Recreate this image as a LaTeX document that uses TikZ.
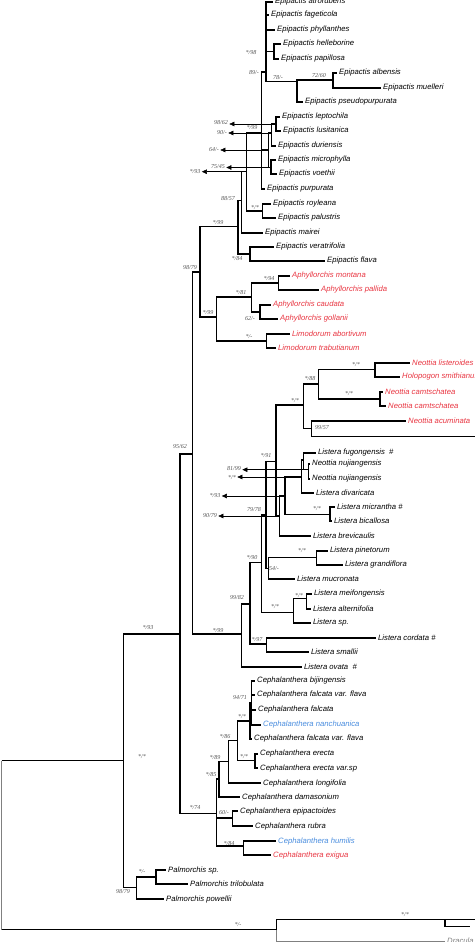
\documentclass[tikz,border=0pt]{standalone}
\usepackage{fontspec}
\setmainfont{Liberation Sans}
\newfontfamily\supfont{Liberation Serif}
\usetikzlibrary{arrows.meta}
\definecolor{tred}{RGB}{232,52,64}
\definecolor{tblue}{RGB}{72,140,222}
\definecolor{supgray}{RGB}{80,80,80}
\tikzset{
  br/.style={line width=1.3pt},
  tip/.style={anchor=west, inner xsep=2.5pt, inner ysep=0pt, font=\fontsize{7.7}{9}\selectfont\itshape},
  redtip/.style={tip, text=tred},
  bluetip/.style={tip, text=tblue},
  sup/.style={inner sep=0pt, text=supgray, font=\fontsize{6}{7}\supfont\itshape},
  asup/.style={sup, outer xsep=1.5pt},
  arr/.style={line width=0.5pt, -{Triangle[length=5pt,width=4.5pt]}},
}
\newcommand\tipat[5]{\node[#4] (#1) at (#2-2.5,#3) {#5};}
\begin{document}
\begin{tikzpicture}[x=1pt,y=-1pt]
\useasboundingbox (0,0) rectangle (474,942);
% ---------- tips ----------
\tipat{t1}{275}{2}{tip}{Epipactis atrorubens}
\tipat{t2}{271}{15}{tip}{Epipactis fageticola}
\tipat{t3}{277}{30}{tip}{Epipactis phyllanthes}
\tipat{t4}{283}{44}{tip}{Epipactis helleborine}
\tipat{t5}{281}{59}{tip}{Epipactis papillosa}
\tipat{t6}{339}{73}{tip}{Epipactis albensis}
\tipat{t7}{383}{88}{tip}{Epipactis muelleri}
\tipat{t8}{305}{102}{tip}{Epipactis pseudopurpurata}
\tipat{t9}{282}{117}{tip}{Epipactis leptochila}
\tipat{t10}{283}{131}{tip}{Epipactis lusitanica}
\tipat{t11}{278}{146}{tip}{Epipactis duriensis}
\tipat{t12}{278}{160}{tip}{Epipactis microphylla}
\tipat{t13}{279}{174}{tip}{Epipactis voethii}
\tipat{t14}{267}{189}{tip}{Epipactis purpurata}
\tipat{t15}{273}{204}{tip}{Epipactis royleana}
\tipat{t16}{278}{218}{tip}{Epipactis palustris}
\tipat{t17}{265}{233}{tip}{Epipactis mairei}
\tipat{t18}{276}{247}{tip}{Epipactis veratrifolia}
\tipat{t19}{327}{261}{tip}{Epipactis flava}
\tipat{t20}{292}{276}{redtip}{Aphyllorchis montana}
\tipat{t21}{321}{290}{redtip}{Aphyllorchis pallida}
\tipat{t22}{273}{305}{redtip}{Aphyllorchis caudata}
\tipat{t23}{280}{319}{redtip}{Aphyllorchis gollanii}
\tipat{t24}{292}{334}{redtip}{Limodorum abortivum}
\tipat{t25}{278}{348}{redtip}{Limodorum trabutianum}
\tipat{t26}{412}{363}{redtip}{Neottia listeroides}
\tipat{t27}{402}{377}{redtip}{Holopogon smithianus}
\tipat{t28}{385}{392}{redtip}{Neottia camtschatea}
\tipat{t29}{388}{406}{redtip}{Neottia camtschatea}
\tipat{t30}{408}{421}{redtip}{Neottia acuminata}
\coordinate (t31) at (480,436);
\tipat{t32}{318}{453}{tip}{Listera fugongensis\ \ \#}
\tipat{t33}{312}{464}{tip}{Neottia nujiangensis}
\tipat{t34}{312}{479}{tip}{Neottia nujiangensis}
\tipat{t35}{316}{493}{tip}{Listera divaricata}
\tipat{t36}{337}{507}{tip}{Listera micrantha \#}
\tipat{t37}{334}{521}{tip}{Listera bicallosa}
\tipat{t38}{313}{536}{tip}{Listera brevicaulis}
\tipat{t39}{330}{551}{tip}{Listera pinetorum}
\tipat{t40}{345}{565}{tip}{Listera grandiflora}
\tipat{t41}{297}{579}{tip}{Listera mucronata}
\tipat{t42}{314}{594}{tip}{Listera meifongensis}
\tipat{t43}{313}{609}{tip}{Listera alternifolia}
\tipat{t44}{313}{623}{tip}{Listera sp.}
\tipat{t45}{378}{638}{tip}{Listera cordata \#}
\tipat{t46}{311}{652}{tip}{Listera smallii}
\tipat{t47}{304}{667}{tip}{Listera ovata\ \ \#}
\tipat{c1}{257}{681}{tip}{Cephalanthera bijingensis}
\tipat{c2}{257}{695}{tip}{Cephalanthera falcata var. flava}
\tipat{c3}{258}{710}{tip}{Cephalanthera falcata}
\tipat{c4}{263}{725}{bluetip}{Cephalanthera nanchuanica}
\tipat{c5}{254}{739}{tip}{Cephalanthera falcata var. flava}
\tipat{c6}{260}{754}{tip}{Cephalanthera erecta}
\tipat{c7}{260}{768}{tip}{Cephalanthera erecta var.sp}
\tipat{c8}{263}{783}{tip}{Cephalanthera longifolia}
\tipat{c9}{242}{797}{tip}{Cephalanthera damasonium}
\tipat{c10}{240}{811}{tip}{Cephalanthera epipactoides}
\tipat{c11}{255}{826}{tip}{Cephalanthera rubra}
\tipat{c12}{278}{841}{bluetip}{Cephalanthera humilis}
\tipat{c13}{273}{855}{redtip}{Cephalanthera exigua}
\tipat{p1}{168}{870}{tip}{Palmorchis sp.}
\tipat{p2}{190}{884}{tip}{Palmorchis trilobulata}
\tipat{p3}{166}{899}{tip}{Palmorchis powellii}
\tipat{dr}{447}{941}{tip, text=gray}{Dracula}
\coordinate (o1) at (476,919.7);
\coordinate (o2) at (470,926.3);
% ---------- internal nodes ----------
\coordinate (hp) at (274,51.5);
\coordinate (n72) at (333,80);
\coordinate (n78) at (297,81.5);
\coordinate (n89) at (266,72);
\coordinate (n9862) at (276,124);
\coordinate (n90) at (271.7,133);
\coordinate (n75) at (271,167.5);
\coordinate (n64) at (268.3,150);
\coordinate (nu99) at (261.7,132.7);
\coordinate (nroy) at (262.5,211);
\coordinate (n93) at (246.7,171.7);
\coordinate (n88) at (241.7,200.5);
\coordinate (n84) at (250,254);
\coordinate (nE) at (238,226.7);
\coordinate (n94) at (278.3,283);
\coordinate (n62) at (260,312);
\coordinate (n81) at (251.7,297);
\coordinate (nLim) at (266.7,341);
\coordinate (nA) at (216.7,317);
\coordinate (n9879) at (200,272);
\coordinate (nHol) at (375,369.3);
\coordinate (nCam) at (380,399);
\coordinate (n88b) at (318.3,384);
\coordinate (n9957) at (311.7,428.3);
\coordinate (nNe) at (303.3,405);
\coordinate (nNuj) at (308.3,469.7);
\coordinate (nFug) at (303.3,460);
\coordinate (nDiv) at (301.7,477);
\coordinate (nMic) at (330,514.7);
\coordinate (n93b) at (285,496);
\coordinate (n9079) at (279.3,516);
\coordinate (n91) at (276,461.7);
\coordinate (nPin) at (316.7,557.7);
\coordinate (n54) at (268.3,568.5);
\coordinate (n7978) at (266,515);
\coordinate (nMei) at (306.7,598.3);
\coordinate (nSp) at (293.3,612.7);
\coordinate (n90b) at (261.7,562.7);
\coordinate (nCor) at (266.7,644);
\coordinate (n9982) at (250,604);
\coordinate (nL99) at (241.7,634);
\coordinate (n9562) at (192.7,454);
\coordinate (n9471) at (251.7,703);
\coordinate (nCf) at (250,721);
\coordinate (nEr) at (255,760.7);
\coordinate (n86) at (237.3,740.7);
\coordinate (n89c) at (228.3,761.4);
\coordinate (n85) at (219,779);
\coordinate (n60) at (232.7,818);
\coordinate (n84c) at (243.3,846);
\coordinate (n74) at (216.7,813.3);
\coordinate (nC93) at (180,634);
\coordinate (nP1) at (156,877);
\coordinate (nP) at (136.7,887.3);
\coordinate (nIn) at (123.3,760.7);
\coordinate (nOut) at (276.7,929.7);
\coordinate (nO1) at (445,919.7);
\coordinate (root) at (1.5,845);
% ---------- branches ----------
\foreach \p/\c in {hp/t4.west, hp/t5.west, n72/t6.west, n72/t7.west, n78/n72, n78/t8.west,
  n89/t1.west, n89/t2.west, n89/t3.west, n89/hp, n89/n78,
  n9862/t9.west, n9862/t10.west, n90/n9862, n90/t11.west,
  n75/t12.west, n75/t13.west, n64/n90, n64/n75,
  nu99/n89, nu99/n64, nu99/t14.west, nroy/t15.west, nroy/t16.west,
  n93/nu99, n93/nroy, n88/n93, n88/t17.west, n84/t18.west, n84/t19.west,
  nE/n88, nE/n84, n94/t20.west, n94/t21.west, n62/t22.west, n62/t23.west,
  n81/n94, n81/n62, nLim/t24.west, nLim/t25.west, nA/n81, nA/nLim,
  n9879/nE, n9879/nA,
  nHol/t26.west, nHol/t27.west, nCam/t28.west, nCam/t29.west, n88b/nHol, n88b/nCam,
  n9957/t30.west, nNe/n88b, nNe/n9957,
  nNuj/t33.west, nNuj/t34.west, nFug/t32.west, nFug/nNuj, nDiv/nFug, nDiv/t35.west,
  nMic/t36.west, nMic/t37.west, n93b/nDiv, n93b/nMic, n9079/n93b, n9079/t38.west,
  n91/nNe, n91/n9079, nPin/t39.west, nPin/t40.west, n54/nPin, n54/t41.west,
  n7978/n91, n7978/n54, nMei/t42.west, nMei/t43.west, nSp/nMei, nSp/t44.west,
  n90b/n7978, n90b/nSp, nCor/t45.west, nCor/t46.west, n9982/n90b, n9982/nCor,
  nL99/n9982, nL99/t47.west, n9562/n9879, n9562/nL99,
  n9471/c1.west, n9471/c2.west, n9471/c3.west, n9471/c4.west, nCf/n9471, nCf/c5.west,
  nEr/c6.west, nEr/c7.west, n86/nCf, n86/nEr, n89c/n86, n89c/c8.west,
  n85/n89c, n85/c9.west, n60/c10.west, n60/c11.west, n84c/c12.west, n84c/c13.west,
  n74/n85, n74/n60, n74/n84c, nC93/n9562, nC93/n74,
  nP1/p1.west, nP1/p2.west, nP/nP1, nP/p3.west, nIn/nC93, nIn/nP,
  nOut/nO1, nO1/o1, nO1/o2}
  \draw[br] (\p) |- (\c);
\draw[line width=0.7pt] (n9957) |- (t31);
\draw[line width=0.8pt, gray] (nOut) |- (dr.west);
\draw[line width=0.8pt, gray] (root |- nIn) -- (root |- nOut);
\draw[br] (root |- nIn) -- (nIn);
\draw[br] (root |- nOut) -- (nOut);
% ---------- support values ----------
\node[sup] (s1) at (251,53) {*/98};
\node[sup] (s2) at (254,73) {89/-};
\node[sup] (s3) at (319,76) {72/60};
\node[sup] (s4) at (278,78) {78/-};
\node[sup] (s5) at (252,128) {*/99};
\node[sup] (s6) at (228,199) {88/57};
\node[sup] (s7) at (255,208) {*/*};
\node[sup] (s8) at (218,223) {*/99};
\node[sup] (s9) at (237,259) {*/84};
\node[sup] (s10) at (190,268) {98/79};
\node[sup] (s11) at (269,279) {*/94};
\node[sup] (s12) at (241,293) {*/81};
\node[sup] (s13) at (208,313) {*/99};
\node[sup] (s14) at (250,319) {62/-};
\node[sup] (s15) at (249,337) {*/-};
\node[sup] (s16) at (356,365) {*/*};
\node[sup] (s17) at (310,379) {*/88};
\node[sup] (s18) at (349,394) {*/*};
\node[sup] (s19) at (295,401) {*/*};
\node[sup] (s20) at (322,428) {99/57};
\node[sup] (s21) at (180,447) {95/62};
\node[sup] (s22) at (266,456) {*/91};
\node[sup] (s23) at (317,509) {*/*};
\node[sup] (s24) at (254,510) {79/78};
\node[sup] (s25) at (302,551) {*/*};
\node[sup] (s26) at (252,558) {*/90};
\node[sup] (s27) at (274,569) {54/-};
\node[sup] (s28) at (299,596) {*/*};
\node[sup] (s29) at (237,598) {99/82};
\node[sup] (s30) at (275,607) {*/*};
\node[sup] (s31) at (218,631) {*/99};
\node[sup] (s32) at (148,628) {*/93};
\node[sup] (s33) at (257,640) {*/97};
\node[sup] (s34) at (240,698) {94/71};
\node[sup] (s35) at (242,717) {*/*};
\node[sup] (s36) at (225,737) {*/86};
\node[sup] (s37) at (244,757) {*/*};
\node[sup] (s38) at (215,758) {*/89};
\node[sup] (s39) at (211,775) {*/85};
\node[sup] (s40) at (195,808) {*/74};
\node[sup] (s41) at (224,813) {60/-};
\node[sup] (s42) at (229,844) {*/84};
\node[sup] (s43) at (142,872) {*/-};
\node[sup] (s44) at (123,892) {98/79};
\node[sup] (s45) at (238,925) {*/-};
\node[sup] (s46) at (405,915) {*/*};
\node[sup] (s47) at (142,757) {*/*};
% ---------- displaced support values with arrows ----------
\node[asup] (a1) at (221,123) {98/62};
\node[asup] (a2) at (222,133) {90/-};
\node[asup] (a3) at (214,150) {64/-};
\node[asup] (a4) at (218,167) {75/45};
\node[asup] (a5) at (195,171.5) {*/93};
\node[asup] (a6) at (234,469) {81/99};
\node[asup] (a7) at (232,478) {*/*};
\node[asup] (a8) at (215,496) {*/93};
\node[asup] (a9) at (210,516) {90/79};
\draw[arr] (n9862) -- (n9862 -| a1.east);
\draw[arr] (n90) -- (n90 -| a2.east);
\draw[arr] (n64) -- (n64 -| a3.east);
\draw[arr] (n75) -- (n75 -| a4.east);
\draw[arr] (n93) -- (n93 -| a5.east);
\draw[arr] (nNuj) -- (nNuj -| a6.east);
\draw[arr] (nDiv) -- (nDiv -| a7.east);
\draw[arr] (n93b) -- (n93b -| a8.east);
\draw[arr] (n9079) -- (n9079 -| a9.east);
\end{tikzpicture}
\end{document}
